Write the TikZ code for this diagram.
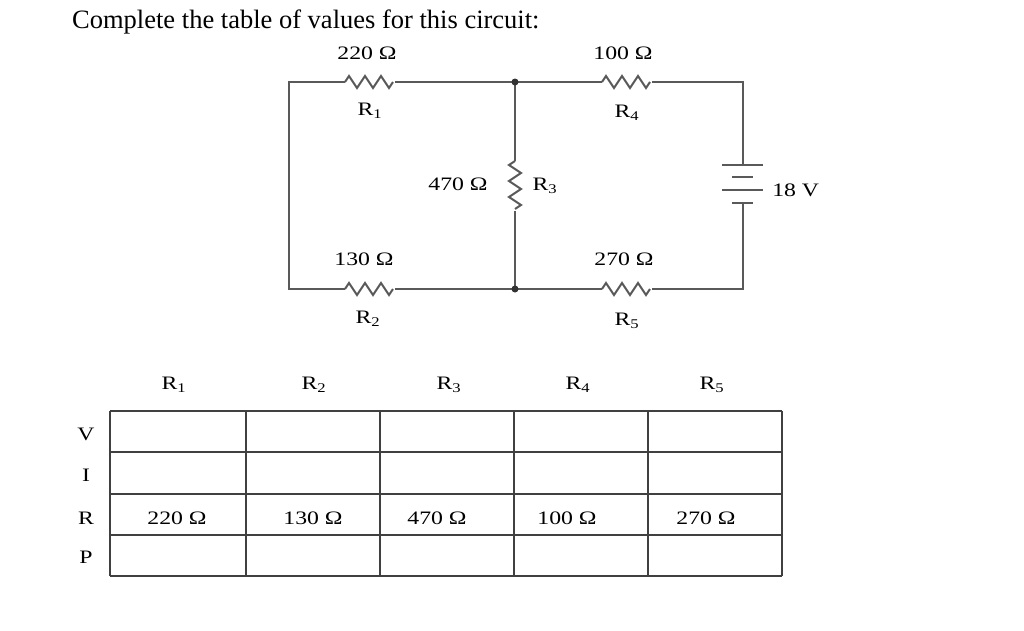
\documentclass[tikz,border=0pt]{standalone}
\usepackage{fontspec}
\setmainfont{Liberation Serif}
\begin{document}
\begin{tikzpicture}[x=1pt,y=-1pt,
  wire/.style={line width=2pt,draw=black!65},
  lbl/.style={font=\fontsize{19}{22}\selectfont,inner sep=0pt,xscale=1.25},
  grid/.style={line width=2.2pt,draw=black!75},
  hres/.pic={\draw[wire] (-25,0) -- ++(4,-6) -- ++(8,12) -- ++(8,-12) -- ++(8,12) -- ++(8,-12) -- ++(8,12) -- ++(4,-6);},
  vres/.pic={\draw[wire] (0,-25) -- ++(-6,4) -- ++(12,8) -- ++(-12,8) -- ++(12,8) -- ++(-12,8) -- ++(12,8) -- ++(-6,4);}]
\useasboundingbox (0,0) rectangle (1024,630);
\node[anchor=west,inner sep=0pt,font=\fontsize{26.5}{30}\selectfont] (title) at (72,22) {Complete the table of values for this circuit:};
% circuit coordinates
\coordinate (tl) at (289,82); \coordinate (tm) at (515,82); \coordinate (tr) at (743,82);
\coordinate (bl) at (289,289); \coordinate (bm) at (515,289); \coordinate (br) at (743,289);
\coordinate (r1a) at (345,82); \coordinate (r1b) at (395,82);
\coordinate (r4a) at (602,82); \coordinate (r4b) at (652,82);
\coordinate (r2a) at (345,289); \coordinate (r2b) at (395,289);
\coordinate (r5a) at (602,289); \coordinate (r5b) at (652,289);
\coordinate (r3a) at (515,161); \coordinate (r3b) at (515,211);
\coordinate (ba) at (743,165); \coordinate (bb) at (743,203);
\draw[wire] (r1a) -- (tl) -- (bl) -- (r2a);
\draw[wire] (r1b) -- (tm) -- (r4a);
\draw[wire] (r4b) -- (tr) -- (ba);
\draw[wire] (r2b) -- (bm) -- (r5a);
\draw[wire] (r5b) -- (br) -- (bb);
\draw[wire] (tm) -- (r3a); \draw[wire] (r3b) -- (bm);
\pic at (370,82) {hres}; \pic at (627,82) {hres};
\pic at (370,289) {hres}; \pic at (627,289) {hres};
\pic at (515,186) {vres};
% battery
\draw[wire] (722,165) -- (763,165);
\draw[wire] (732,177) -- (753,177);
\draw[wire] (722,190) -- (763,190);
\draw[wire] (732,203) -- (753,203);
\fill[black!80] (tm) circle (3.5); \fill[black!80] (bm) circle (3.5);
\node[lbl] (l1) at (367,53) {220 Ω}; \node[lbl] (n1) at (370,111) {R\textsubscript{1}};
\node[lbl] (l4) at (623,53) {100 Ω}; \node[lbl] (n4) at (627,113) {R\textsubscript{4}};
\node[lbl] (l3) at (458,184) {470 Ω}; \node[lbl] (n3) at (545,186) {R\textsubscript{3}};
\node[lbl,anchor=west] (lv) at (772,190) {18 V};
\node[lbl] (l2) at (364,259) {130 Ω}; \node[lbl] (n2) at (368,319) {R\textsubscript{2}};
\node[lbl] (l5) at (624,259) {270 Ω}; \node[lbl] (n5) at (627,321) {R\textsubscript{5}};
% table
\foreach \x in {110,246,380,514,648,782} \draw[grid] (\x,411) -- (\x,576);
\foreach \y in {411,452,494,535,576} \draw[grid] (110,\y) -- (782,\y);
\foreach \t/\x in {1/174,2/314,3/449,4/578,5/712} \node[lbl] (h\t) at (\x,385) {R\textsubscript{\t}};
\foreach \t/\y in {V/434,I/475,R/518,P/557} \node[lbl] (row\t) at (86,\y) {\t};
\foreach \v/\x in {220/177,130/313,470/437,100/567,270/706} \node[lbl] (c\v) at (\x,518) {\v\ Ω};
\end{tikzpicture}
\end{document}
